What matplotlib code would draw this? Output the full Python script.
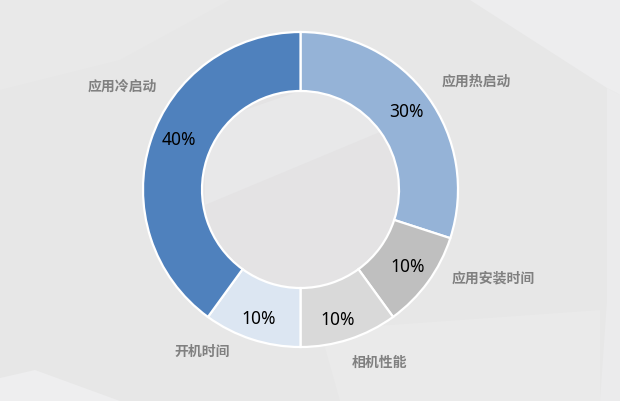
import numpy as np
import matplotlib.pyplot as plt
from matplotlib.patches import Polygon, Circle

# slices, clockwise from 12 o'clock
names = ['应用热启动', '应用安装时间', '相机性能', '开机时间', '应用冷启动']
shares = [30, 10, 10, 10, 40]
colors = ['#95B3D7', '#BFBFBF', '#D9D9D9', '#DCE6F2', '#4F81BD']

# label anchors in pixel coords (x from left, y from top)
label_xy = [(476, 82), (493, 278), (379, 363), (202, 352), (122, 87)]
# small nudges for percent labels, as placed in the original
pct_nudge = [0, 0, -2, 0, -4]      # degrees
pct_dist = [0.835, 0.84, 0.865, 0.865, 0.835]

W, H = 620, 401
fig = plt.figure(figsize=(6.2, 4.01), dpi=100)
fig.patch.set_facecolor('#E7E7E7')
ax = fig.add_axes([0, 0, 1, 1])
ax.set_xlim(0, W)
ax.set_ylim(0, H)
ax.set_aspect('equal')
ax.axis('off')

def P(x, y):
	return (x, H - y)

# faint faceted background
bg = [
	([(470, 0), (620, 0), (620, 95), (607, 88)], '#EDEDEE'),
	([(607, 88), (620, 95), (620, 401), (600, 401), (607, 300)], '#EBEBEC'),
	([(0, 0), (230, 0), (120, 60), (0, 90)], '#E9E9E9'),
	([(0, 401), (0, 378), (35, 370), (120, 401)], '#EEEEEF'),
	([(320, 330), (600, 310), (600, 401), (340, 401)], '#EAEAEA'),
]
for pts, c in bg:
	ax.add_patch(Polygon([P(x, y) for x, y in pts], closed=True, facecolor=c, edgecolor='none', zorder=0))

cx, cy = P(300.5, 189.5)
R = 157.5
ax.add_patch(Circle((cx, cy), 99, facecolor='#E4E3E4', edgecolor='none', zorder=1))
ax.add_patch(Polygon([P(205, 205), P(380, 132), P(360, 100), P(300, 91), P(230, 115), P(205, 160)],
	closed=True, facecolor='#E8E8E9', edgecolor='none', zorder=1))

wedges, texts, autotexts = ax.pie(shares, colors=colors, startangle=90, counterclock=False,
	center=(cx, cy), radius=R, autopct='%d%%', pctdistance=0.84,
	wedgeprops=dict(width=59, edgecolor='white', linewidth=1.6),
	textprops=dict(fontsize=12.5, family='Noto Sans', color='black'))
for i, w in enumerate(wedges):
	w.set_zorder(2)
	ang = np.deg2rad((w.theta1 + w.theta2) / 2 + pct_nudge[i])
	r = pct_dist[i] * R
	autotexts[i].set_position((cx + r * np.cos(ang), cy + r * np.sin(ang)))
	autotexts[i].set_zorder(3)

for i in range(len(names)):
	x, y = P(*label_xy[i])
	ax.text(x, y, names[i], ha='center', va='center', fontsize=10, fontweight='bold',
		color='#808080', family=['Noto Sans CJK SC', 'DejaVu Sans'], zorder=3)

ax.set_xlim(0, W)
ax.set_ylim(0, H)
plt.savefig('out.png', dpi=100, facecolor=fig.get_facecolor())
